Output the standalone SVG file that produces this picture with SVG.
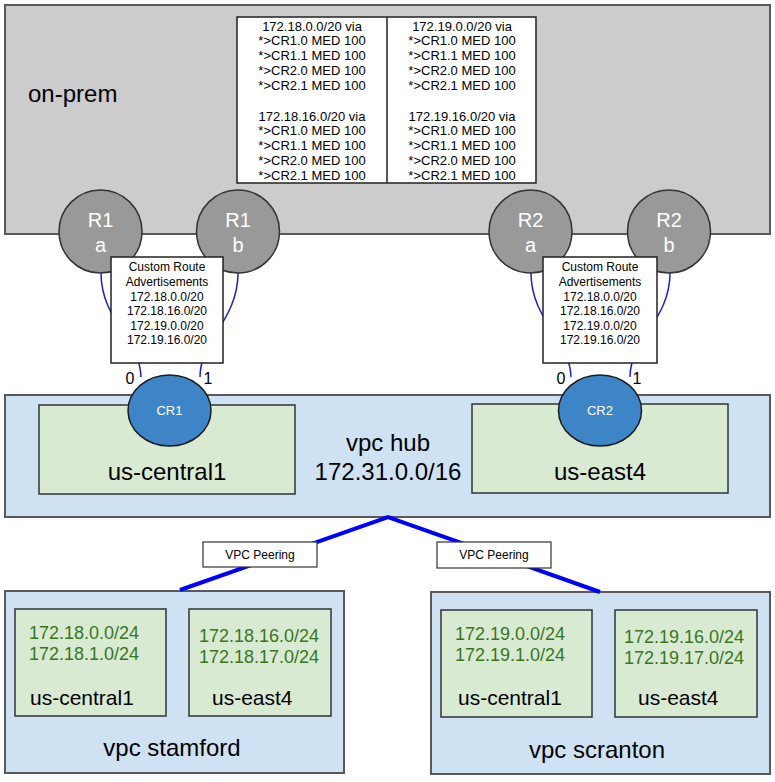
<svg xmlns="http://www.w3.org/2000/svg" width="775" height="782" viewBox="0 0 775 782">
<style>
text{font-family:"Liberation Sans",Arial,sans-serif;fill:#000}
.tbl{font-size:13px;text-anchor:middle}
.adv{font-size:12px;text-anchor:middle}
.big{font-size:24px}
.mid{text-anchor:middle}
.reg{font-size:21px}
.sub{font-size:18px;fill:#38761d}
.rt{font-size:20px;fill:#fff;text-anchor:middle}
.cr{font-size:13px;fill:#fff;text-anchor:middle}
.port{font-size:16px;text-anchor:middle}
.peer{font-size:12px;text-anchor:middle}
.box{fill:#fff;stroke:#222;stroke-width:1.5}
.vpc{fill:#cfe2f3;stroke:#595959;stroke-width:2}
.region{fill:#d9ead3;stroke:#333;stroke-width:1.5}
.router{fill:#999;stroke:#333;stroke-width:1.5}
.crc{fill:#3d85c6;stroke:#1c1c1c;stroke-width:1.5}
.arc{fill:none;stroke:#1f1fcc;stroke-width:1.5}
.peerline{fill:none;stroke:#0000ff;stroke-width:4}
</style>

<g id="on-prem">
<rect x="5" y="5" width="765" height="229" fill="#cccccc" stroke="#595959" stroke-width="2"/>
<text class="big" x="28" y="102">on-prem</text>
</g>

<g id="route-table">
<rect class="box" x="237" y="17" width="299" height="166"/>
<line x1="387" y1="17" x2="387" y2="183" stroke="#222" stroke-width="1.5"/>
<text class="tbl" x="312" y="30.5">172.18.0.0/20 via</text>
<text class="tbl" x="312" y="45.3">*&gt;CR1.0 MED 100</text>
<text class="tbl" x="312" y="60.2">*&gt;CR1.1 MED 100</text>
<text class="tbl" x="312" y="75">*&gt;CR2.0 MED 100</text>
<text class="tbl" x="312" y="89.9">*&gt;CR2.1 MED 100</text>
<text class="tbl" x="312" y="120.5">172.18.16.0/20 via</text>
<text class="tbl" x="312" y="135.3">*&gt;CR1.0 MED 100</text>
<text class="tbl" x="312" y="150.2">*&gt;CR1.1 MED 100</text>
<text class="tbl" x="312" y="165">*&gt;CR2.0 MED 100</text>
<text class="tbl" x="312" y="179.9">*&gt;CR2.1 MED 100</text>
<text class="tbl" x="462" y="30.5">172.19.0.0/20 via</text>
<text class="tbl" x="462" y="45.3">*&gt;CR1.0 MED 100</text>
<text class="tbl" x="462" y="60.2">*&gt;CR1.1 MED 100</text>
<text class="tbl" x="462" y="75">*&gt;CR2.0 MED 100</text>
<text class="tbl" x="462" y="89.9">*&gt;CR2.1 MED 100</text>
<text class="tbl" x="462" y="120.5">172.19.16.0/20 via</text>
<text class="tbl" x="462" y="135.3">*&gt;CR1.0 MED 100</text>
<text class="tbl" x="462" y="150.2">*&gt;CR1.1 MED 100</text>
<text class="tbl" x="462" y="165">*&gt;CR2.0 MED 100</text>
<text class="tbl" x="462" y="179.9">*&gt;CR2.1 MED 100</text>
</g>

<g id="vpc-hub">
<rect class="vpc" x="5" y="395" width="765" height="122"/>
<text class="big mid" x="388" y="451">vpc hub</text>
<text class="big mid" x="388" y="480">172.31.0.0/16</text>
</g>

<g id="hub-us-central1">
<rect class="region" x="39" y="405" width="256" height="89"/>
<text class="big mid" x="167" y="480">us-central1</text>
</g>

<g id="hub-us-east4">
<rect class="region" x="472" y="404" width="256" height="89"/>
<text class="big mid" x="600" y="480">us-east4</text>
</g>

<g id="vpc-stamford">
<rect class="vpc" x="5" y="591" width="339" height="182"/>
<text class="big mid" x="172" y="756">vpc stamford</text>
</g>
<g id="stamford-us-central1">
<rect class="region" x="15" y="609" width="151" height="107"/>
<text class="sub" x="29" y="639">172.18.0.0/24</text>
<text class="sub" x="29" y="660">172.18.1.0/24</text>
<text class="reg" x="30" y="705">us-central1</text>
</g>
<g id="stamford-us-east4">
<rect class="region" x="189" y="609" width="142" height="107"/>
<text class="sub" x="199" y="642">172.18.16.0/24</text>
<text class="sub" x="199" y="663">172.18.17.0/24</text>
<text class="reg" x="212" y="705">us-east4</text>
</g>

<g id="vpc-scranton">
<rect class="vpc" x="431" y="592" width="339" height="182"/>
<text class="big mid" x="597" y="758">vpc scranton</text>
</g>
<g id="scranton-us-central1">
<rect class="region" x="441" y="610" width="151" height="107"/>
<text class="sub" x="455" y="640">172.19.0.0/24</text>
<text class="sub" x="455" y="661">172.19.1.0/24</text>
<text class="reg" x="458" y="705">us-central1</text>
</g>
<g id="scranton-us-east4">
<rect class="region" x="615" y="610" width="142" height="107"/>
<text class="sub" x="624" y="643">172.19.16.0/24</text>
<text class="sub" x="624" y="664">172.19.17.0/24</text>
<text class="reg" x="638" y="705">us-east4</text>
</g>

<g id="R1a">
<circle class="router" cx="100.5" cy="231.5" r="41.5"/>
<text class="rt" x="100.5" y="227">R1</text>
<text class="rt" x="100.5" y="252">a</text>
</g>
<g id="R1b">
<circle class="router" cx="238" cy="231.5" r="41.5"/>
<text class="rt" x="238" y="227">R1</text>
<text class="rt" x="238" y="252">b</text>
</g>
<g id="R2a">
<circle class="router" cx="530.5" cy="231.5" r="41.5"/>
<text class="rt" x="530.5" y="227">R2</text>
<text class="rt" x="530.5" y="252">a</text>
</g>
<g id="R2b">
<circle class="router" cx="669" cy="231.5" r="41.5"/>
<text class="rt" x="669" y="227">R2</text>
<text class="rt" x="669" y="252">b</text>
</g>

<g id="connectors">
<path class="arc" d="M101,273 C101,320 140,340 141,377"/>
<path class="arc" d="M238,273 C238,320 200,340 200,377"/>
<path class="arc" d="M531,273 C531,320 570,340 571,377"/>
<path class="arc" d="M670,273 C670,320 630,340 630,377"/>
<text class="port" x="130" y="384">0</text>
<text class="port" x="208" y="384">1</text>
<text class="port" x="561" y="384">0</text>
<text class="port" x="637" y="384">1</text>
<path class="peerline" d="M180,590 L388,517 L600,592"/>
</g>

<g id="CR1">
<ellipse class="crc" cx="169.5" cy="410.5" rx="41.5" ry="35.5"/>
<text class="cr" x="169.5" y="415">CR1</text>
</g>
<g id="CR2">
<ellipse class="crc" cx="600" cy="410.5" rx="41.5" ry="35.5"/>
<text class="cr" x="600" y="415">CR2</text>
</g>

<g id="adv-1">
<rect class="box" x="111" y="257" width="112" height="106"/>
<text class="adv" x="167" y="271.3">Custom Route</text>
<text class="adv" x="167" y="285.9">Advertisements</text>
<text class="adv" x="167" y="300.5">172.18.0.0/20</text>
<text class="adv" x="167" y="315.1">172.18.16.0/20</text>
<text class="adv" x="167" y="329.7">172.19.0.0/20</text>
<text class="adv" x="167" y="344.3">172.19.16.0/20</text>
</g>
<g id="adv-2">
<rect class="box" x="543" y="257" width="114" height="106"/>
<text class="adv" x="600" y="271.3">Custom Route</text>
<text class="adv" x="600" y="285.9">Advertisements</text>
<text class="adv" x="600" y="300.5">172.18.0.0/20</text>
<text class="adv" x="600" y="315.1">172.18.16.0/20</text>
<text class="adv" x="600" y="329.7">172.19.0.0/20</text>
<text class="adv" x="600" y="344.3">172.19.16.0/20</text>
</g>

<g id="peering-1">
<rect x="203" y="542" width="114" height="25" fill="#fff" stroke="#333" stroke-width="1.2"/>
<text class="peer" x="260" y="559">VPC Peering</text>
</g>
<g id="peering-2">
<rect x="437" y="542" width="114" height="26" fill="#fff" stroke="#333" stroke-width="1.2"/>
<text class="peer" x="494" y="559">VPC Peering</text>
</g>
</svg>
